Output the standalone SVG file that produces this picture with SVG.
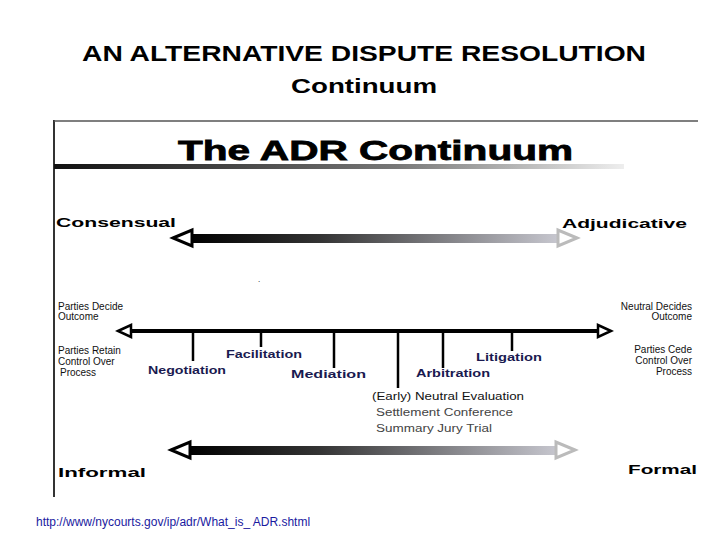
<svg xmlns="http://www.w3.org/2000/svg" width="728" height="546" viewBox="0 0 728 546">
<defs>
<linearGradient id="g" x1="0" x2="1" y1="0" y2="0"><stop offset="0" stop-color="#000"/><stop offset="0.35" stop-color="#333"/><stop offset="1" stop-color="#c8c8d0"/></linearGradient>
<linearGradient id="g2" x1="0" x2="1"><stop offset="0" stop-color="#111"/><stop offset="0.6" stop-color="#777"/><stop offset="1" stop-color="#eee"/></linearGradient>
</defs>
<style>
.t{font-family:"Liberation Sans",Arial,sans-serif;font-weight:bold}
.s{font-family:"Liberation Sans",Arial,sans-serif;font-size:10px;fill:#111}
.b{font-family:"Liberation Sans",Arial,sans-serif;font-weight:bold;font-size:11px;fill:#1a1a50}
.g{font-family:"Liberation Sans",Arial,sans-serif;font-size:10px;fill:#444}
</style>
<rect width="728" height="546" fill="#fff"/>
<text class="t" x="82" y="61" font-size="22" textLength="564" lengthAdjust="spacingAndGlyphs">AN ALTERNATIVE DISPUTE RESOLUTION</text>
<text class="t" x="291" y="93" font-size="21" textLength="146" lengthAdjust="spacingAndGlyphs">Continuum</text>
<g id="frame"><line x1="54" y1="120" x2="54" y2="497" stroke="#333" stroke-width="2"/><line x1="54" y1="121" x2="698" y2="121" stroke="#555" stroke-width="1.5"/></g>
<g id="header"><text class="t" x="178" y="160" font-size="28" fill="#000" stroke="#000" stroke-width="0.8" textLength="395" lengthAdjust="spacingAndGlyphs">The ADR Continuum</text>
<rect x="54" y="164" width="570" height="5" fill="url(#g2)"/></g>
<g id="connectors">
<rect x="190" y="234" width="370" height="9" fill="url(#g)"/>
<polygon points="173,238 192,230 192,246" fill="#fff" stroke="#000" stroke-width="3"/>
<polygon points="577,238 558,230 558,246" fill="#fff" stroke="#bbb" stroke-width="3"/>
<rect x="130" y="329" width="470" height="4" fill="#000"/>
<polygon points="118,331 131,325 131,337" fill="#fff" stroke="#000" stroke-width="2.5"/>
<polygon points="611,331 598,325 598,337" fill="#fff" stroke="#000" stroke-width="2.5"/>
<g stroke="#000" stroke-width="2.5"><line x1="193" y1="331" x2="193" y2="361"/><line x1="261" y1="331" x2="261" y2="347"/><line x1="334" y1="331" x2="334" y2="368"/><line x1="398" y1="331" x2="398" y2="388"/><line x1="443" y1="331" x2="443" y2="368"/><line x1="512" y1="331" x2="512" y2="351"/></g>
<rect x="188" y="446" width="372" height="9" fill="url(#g)"/>
<polygon points="171,450 190,442 190,458" fill="#fff" stroke="#000" stroke-width="3"/>
<polygon points="575,450 556,442 556,458" fill="#fff" stroke="#bbb" stroke-width="3"/>
</g>
<g id="labels">
<text class="t" x="56" y="227" font-size="13" textLength="120" lengthAdjust="spacingAndGlyphs">Consensual</text>
<text class="t" x="562" y="228" font-size="13" textLength="125" lengthAdjust="spacingAndGlyphs">Adjudicative</text>
<text class="t" x="58" y="477" font-size="13" textLength="88" lengthAdjust="spacingAndGlyphs">Informal</text>
<text class="t" x="628" y="474" font-size="13" textLength="69" lengthAdjust="spacingAndGlyphs">Formal</text>
<text class="s" x="58" y="310">Parties Decide</text><text class="s" x="58" y="320">Outcome</text>
<text class="s" x="58" y="354">Parties Retain</text><text class="s" x="58" y="365">Control Over</text><text class="s" x="60" y="376"> Process</text>
<text class="s" x="692" y="310" text-anchor="end">Neutral Decides</text><text class="s" x="692" y="320" text-anchor="end">Outcome</text>
<text class="s" x="692" y="353" text-anchor="end">Parties Cede</text><text class="s" x="692" y="364" text-anchor="end">Control Over</text><text class="s" x="692" y="375" text-anchor="end">Process</text>
<text class="b" x="148" y="374" textLength="78" lengthAdjust="spacingAndGlyphs">Negotiation</text>
<text class="b" x="226" y="358" textLength="76" lengthAdjust="spacingAndGlyphs">Facilitation</text>
<text class="b" x="291" y="378" font-size="12" textLength="75" lengthAdjust="spacingAndGlyphs">Mediation</text>
<text class="b" x="416" y="377" textLength="74" lengthAdjust="spacingAndGlyphs">Arbitration</text>
<text class="b" x="476" y="361" textLength="66" lengthAdjust="spacingAndGlyphs">Litigation</text>
<text class="s" x="372" y="400" textLength="152" lengthAdjust="spacingAndGlyphs">(Early) Neutral Evaluation</text>
<text class="g" x="376" y="416" textLength="137" lengthAdjust="spacingAndGlyphs">Settlement Conference</text>
<text class="g" x="376" y="432" textLength="116" lengthAdjust="spacingAndGlyphs">Summary Jury Trial</text>
<text x="258" y="282" font-size="8" font-family="Liberation Sans,sans-serif">.</text>
</g>
<text x="36" y="526" font-family="Liberation Sans,Arial,sans-serif" font-size="12" fill="#1a1aa0">http://www/nycourts.gov/ip/adr/What_is_ ADR.shtml</text>
</svg>
